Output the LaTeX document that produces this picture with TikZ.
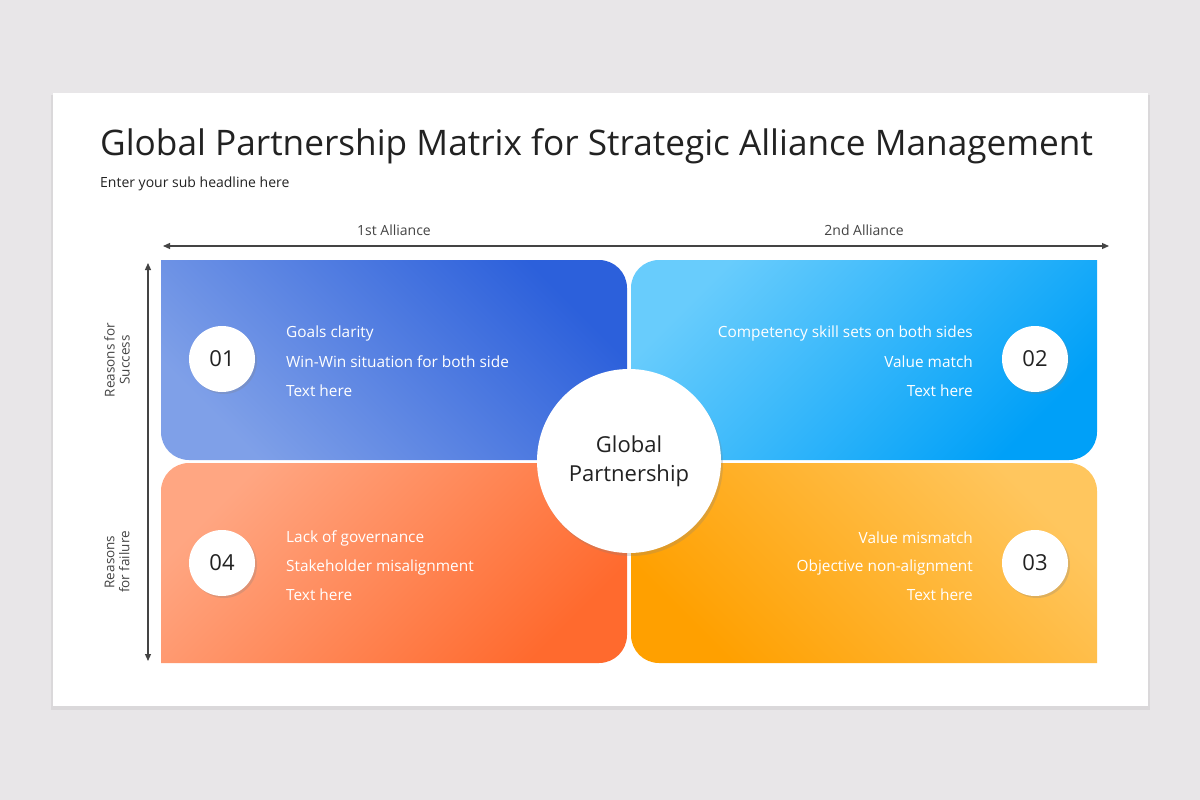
\documentclass[tikz,border=0pt]{standalone}
\usepackage{fontspec}
\setmainfont{Open Sans}
\usetikzlibrary{shadows,arrows.meta}
\definecolor{bg}{HTML}{E8E6E8}
\definecolor{tl1}{HTML}{7FA0E8}\definecolor{tl2}{HTML}{2C60DB}
\definecolor{tr1}{HTML}{68CCFC}\definecolor{tr2}{HTML}{00A0F8}
\definecolor{bl1}{HTML}{FFA682}\definecolor{bl2}{HTML}{FF6A2E}
\definecolor{br1}{HTML}{FFA000}\definecolor{br2}{HTML}{FFC65E}
\definecolor{txt}{HTML}{222222}\definecolor{lbl}{HTML}{444444}
\begin{document}
\begin{tikzpicture}[x=1pt,y=-1pt,
  numc/.style={circle,fill=white,minimum size=66pt,inner sep=0pt,font=\fontsize{22}{24}\selectfont,text=txt,drop shadow={opacity=0.25,shadow xshift=2pt,shadow yshift=-2pt}},
  itemL/.style={anchor=west,inner sep=0pt,text=white,font=\fontsize{15.4}{17}\selectfont},
  itemR/.style={anchor=east,inner sep=0pt,text=white,font=\fontsize{15.4}{17}\selectfont},
  axl/.style={text=lbl,font=\fontsize{14}{16}\selectfont},
  axarrow/.style={draw=lbl,line width=1.2pt,{Triangle[length=7pt,width=6pt]}-{Triangle[length=7pt,width=6pt]}}]
\useasboundingbox (0,0) rectangle (1200,800);
\fill[bg] (0,0) rectangle (1200,800);
\fill[black,opacity=0.06] (51,95) rectangle (1150,710);
\fill[white] (53,93) rectangle (1148,706);
\node[anchor=base west,inner sep=0pt,text=txt,font=\fontsize{35.2}{40}\selectfont] (title) at (100,155) {Global Partnership Matrix for Strategic Alliance Management};
\node[anchor=base west,inner sep=0pt,text=txt,font=\fontsize{14}{16}\selectfont] (sub) at (100,187) {Enter your sub headline here};
% arrows
\coordinate (h1) at (163,246); \coordinate (h2) at (1109,246);
\draw[axarrow] (h1) -- (h2);
\coordinate (v1) at (148,263); \coordinate (v2) at (148,661);
\draw[axarrow] (v1) -- (v2);
\node[axl] (a1) at (394,230) {1st Alliance};
\node[axl] (a2) at (864,230) {2nd Alliance};
\node[axl,rotate=90,align=center,font=\fontsize{13.5}{15}\selectfont] (r1) at (117,360) {Reasons for\\Success};
\node[axl,rotate=90,align=center,font=\fontsize{13.5}{15}\selectfont] (r2) at (117,562) {Reasons\\for failure};
\def\r{28}
% TL
\shade[shading=axis,top color=tl2,bottom color=tl1,shading angle=-45]
 (161,260) -- (627-\r,260) arc[start angle=-90,end angle=0,radius=\r] -- (627,460) -- (161+\r,460) arc[start angle=-270,end angle=-180,radius=\r] -- cycle;
% TR
\shade[shading=axis,top color=tr1,bottom color=tr2,shading angle=45]
 (631+\r,260) -- (1097,260) -- (1097,460-\r) arc[start angle=0,end angle=90,radius=\r] -- (631,460) -- (631,260+\r) arc[start angle=-180,end angle=-90,radius=\r] -- cycle;
% BL
\shade[shading=axis,top color=bl1,bottom color=bl2,shading angle=45]
 (161+\r,463) -- (627,463) -- (627,663-\r) arc[start angle=0,end angle=90,radius=\r] -- (161,663) -- (161,463+\r) arc[start angle=-180,end angle=-90,radius=\r] -- cycle;
% BR
\shade[shading=axis,top color=br2,bottom color=br1,shading angle=-45]
 (631,463) -- (1097-\r,463) arc[start angle=-90,end angle=0,radius=\r] -- (1097,663) -- (631+\r,663) arc[start angle=-270,end angle=-180,radius=\r] -- cycle;
% center
\node[circle,fill=white,minimum size=184pt,inner sep=0pt,align=center,text=txt,font=\fontsize{22}{29}\selectfont,drop shadow={opacity=0.25,shadow xshift=2pt,shadow yshift=-3pt}] (c) at (629,461) {Global\\Partnership};
% numbers
\node[numc] (n1) at (222,359) {01};
\node[numc] (n2) at (1035,359) {02};
\node[numc] (n4) at (222,563) {04};
\node[numc] (n3) at (1035,563) {03};
% texts
\node[itemL] (t11) at (286,333) {Goals clarity};
\node[itemL] (t12) at (286,362) {Win-Win situation for both side};
\node[itemL] (t13) at (286,391) {Text here};
\node[itemR] (t21) at (973,333) {Competency skill sets on both sides};
\node[itemR] (t22) at (973,362) {Value match};
\node[itemR] (t23) at (973,391) {Text here};
\node[itemL] (t41) at (286,538) {Lack of governance};
\node[itemL] (t42) at (286,567) {Stakeholder misalignment};
\node[itemL] (t43) at (286,595) {Text here};
\node[itemR] (t31) at (973,538) {Value mismatch};
\node[itemR] (t32) at (973,567) {Objective non-alignment};
\node[itemR] (t33) at (973,595) {Text here};
\end{tikzpicture}
\end{document}
